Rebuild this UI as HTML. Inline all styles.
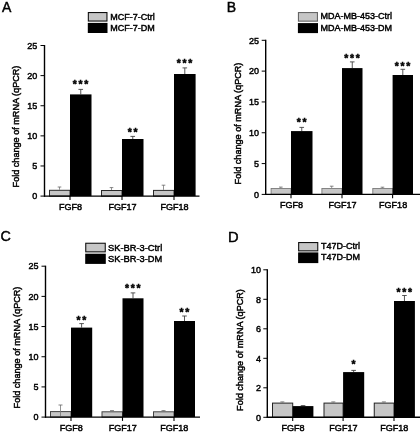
<!DOCTYPE html>
<html><head><meta charset="utf-8"><title>Figure</title>
<style>
html,body{margin:0;padding:0;background:#fff;}
svg{display:block;}
svg text{font-family:"Liberation Sans", Arial, sans-serif;fill:#000;stroke:#000;stroke-width:0.45px;}
svg text.st{stroke-width:0.45px;}
</style></head><body>
<svg width="420" height="436" viewBox="0 0 420 436">
<defs><filter id="soft" x="0" y="0" width="420" height="436" filterUnits="userSpaceOnUse"><feGaussianBlur stdDeviation="0.4"/></filter><filter id="soft2" x="0" y="0" width="420" height="436" filterUnits="userSpaceOnUse"><feGaussianBlur stdDeviation="0.25"/></filter></defs>
<rect width="420" height="436" fill="#fff"/>
<g filter="url(#soft2)">
<rect width="420" height="436" fill="#fff"/>
<g id="panel-A">
<rect x="88.35" y="12.55" width="18.60" height="8.50" fill="#c6c6c6" stroke="#111" stroke-width="1.1"/>
<rect x="87.80" y="22.90" width="19.70" height="10.10" fill="#000"/>
<line x1="80.75" y1="94.40" x2="80.75" y2="89.40" stroke="#444" stroke-width="0.9"/>
<line x1="78.45" y1="89.40" x2="83.05" y2="89.40" stroke="#444" stroke-width="0.9"/>
<rect x="49.50" y="190.30" width="20.50" height="5.80" fill="#c6c6c6" stroke="#2a2a2a" stroke-width="1"/>
<rect x="70.00" y="94.40" width="21.50" height="101.70" fill="#000"/>
<line x1="59.50" y1="187.00" x2="59.50" y2="189.80" stroke="#777" stroke-width="0.8"/>
<line x1="57.70" y1="187.00" x2="61.30" y2="187.00" stroke="#666" stroke-width="0.8"/>
<line x1="70.00" y1="196.10" x2="70.00" y2="199.90" stroke="#000" stroke-width="1.1"/>
<line x1="132.75" y1="139.00" x2="132.75" y2="136.40" stroke="#444" stroke-width="0.9"/>
<line x1="130.45" y1="136.40" x2="135.05" y2="136.40" stroke="#444" stroke-width="0.9"/>
<rect x="101.50" y="190.50" width="20.50" height="5.60" fill="#c6c6c6" stroke="#2a2a2a" stroke-width="1"/>
<rect x="122.00" y="139.00" width="21.50" height="57.10" fill="#000"/>
<line x1="111.50" y1="187.60" x2="111.50" y2="190.00" stroke="#777" stroke-width="0.8"/>
<line x1="109.70" y1="187.60" x2="113.30" y2="187.60" stroke="#666" stroke-width="0.8"/>
<line x1="122.00" y1="196.10" x2="122.00" y2="199.90" stroke="#000" stroke-width="1.1"/>
<line x1="184.80" y1="74.00" x2="184.80" y2="67.90" stroke="#444" stroke-width="0.9"/>
<line x1="182.50" y1="67.90" x2="187.10" y2="67.90" stroke="#444" stroke-width="0.9"/>
<rect x="153.50" y="190.40" width="20.50" height="5.70" fill="#c6c6c6" stroke="#2a2a2a" stroke-width="1"/>
<rect x="174.00" y="74.00" width="21.60" height="122.10" fill="#000"/>
<line x1="163.50" y1="185.20" x2="163.50" y2="189.90" stroke="#777" stroke-width="0.8"/>
<line x1="161.70" y1="185.20" x2="165.30" y2="185.20" stroke="#666" stroke-width="0.8"/>
<line x1="174.00" y1="196.10" x2="174.00" y2="199.90" stroke="#000" stroke-width="1.1"/>
<line x1="44.50" y1="45.00" x2="44.50" y2="196.70" stroke="#000" stroke-width="1.4"/>
<line x1="44.00" y1="196.10" x2="199.50" y2="196.10" stroke="#000" stroke-width="1.4"/>
<line x1="40.50" y1="196.10" x2="44.50" y2="196.10" stroke="#000" stroke-width="1"/>
<line x1="40.50" y1="165.98" x2="44.50" y2="165.98" stroke="#000" stroke-width="1"/>
<line x1="40.50" y1="135.86" x2="44.50" y2="135.86" stroke="#000" stroke-width="1"/>
<line x1="40.50" y1="105.74" x2="44.50" y2="105.74" stroke="#000" stroke-width="1"/>
<line x1="40.50" y1="75.62" x2="44.50" y2="75.62" stroke="#000" stroke-width="1"/>
<line x1="40.50" y1="45.50" x2="44.50" y2="45.50" stroke="#000" stroke-width="1"/>
</g>
<g id="panel-B">
<rect x="298.45" y="12.55" width="19.00" height="8.60" fill="#c6c6c6" stroke="#666" stroke-width="1.1"/>
<rect x="297.90" y="23.10" width="20.10" height="10.00" fill="#000"/>
<line x1="301.75" y1="131.10" x2="301.75" y2="127.40" stroke="#444" stroke-width="0.9"/>
<line x1="299.45" y1="127.40" x2="304.05" y2="127.40" stroke="#444" stroke-width="0.9"/>
<rect x="271.10" y="188.50" width="19.90" height="5.90" fill="#c6c6c6" stroke="#7a7a7a" stroke-width="0.9"/>
<rect x="291.00" y="131.10" width="21.50" height="63.30" fill="#000"/>
<line x1="280.80" y1="187.10" x2="280.80" y2="188.00" stroke="#777" stroke-width="0.8"/>
<line x1="279.00" y1="187.10" x2="282.60" y2="187.10" stroke="#666" stroke-width="0.8"/>
<line x1="291.00" y1="194.40" x2="291.00" y2="198.20" stroke="#000" stroke-width="1.1"/>
<line x1="352.25" y1="68.10" x2="352.25" y2="61.90" stroke="#444" stroke-width="0.9"/>
<line x1="349.95" y1="61.90" x2="354.55" y2="61.90" stroke="#444" stroke-width="0.9"/>
<rect x="321.90" y="188.50" width="20.10" height="5.90" fill="#c6c6c6" stroke="#7a7a7a" stroke-width="0.9"/>
<rect x="342.00" y="68.10" width="20.50" height="126.30" fill="#000"/>
<line x1="331.70" y1="186.20" x2="331.70" y2="188.00" stroke="#777" stroke-width="0.8"/>
<line x1="329.90" y1="186.20" x2="333.50" y2="186.20" stroke="#666" stroke-width="0.8"/>
<line x1="342.00" y1="194.40" x2="342.00" y2="198.20" stroke="#000" stroke-width="1.1"/>
<line x1="402.80" y1="75.00" x2="402.80" y2="69.30" stroke="#444" stroke-width="0.9"/>
<line x1="400.50" y1="69.30" x2="405.10" y2="69.30" stroke="#444" stroke-width="0.9"/>
<rect x="372.80" y="188.50" width="19.80" height="5.90" fill="#c6c6c6" stroke="#7a7a7a" stroke-width="0.9"/>
<rect x="392.60" y="75.00" width="20.40" height="119.40" fill="#000"/>
<line x1="382.45" y1="187.20" x2="382.45" y2="188.00" stroke="#777" stroke-width="0.8"/>
<line x1="380.65" y1="187.20" x2="384.25" y2="187.20" stroke="#666" stroke-width="0.8"/>
<line x1="392.60" y1="194.40" x2="392.60" y2="198.20" stroke="#000" stroke-width="1.1"/>
<line x1="265.70" y1="39.80" x2="265.70" y2="195.00" stroke="#000" stroke-width="1.4"/>
<line x1="265.20" y1="194.40" x2="420.00" y2="194.40" stroke="#000" stroke-width="1.4"/>
<line x1="261.70" y1="194.40" x2="265.70" y2="194.40" stroke="#000" stroke-width="1"/>
<line x1="261.70" y1="163.58" x2="265.70" y2="163.58" stroke="#000" stroke-width="1"/>
<line x1="261.70" y1="132.76" x2="265.70" y2="132.76" stroke="#000" stroke-width="1"/>
<line x1="261.70" y1="101.94" x2="265.70" y2="101.94" stroke="#000" stroke-width="1"/>
<line x1="261.70" y1="71.12" x2="265.70" y2="71.12" stroke="#000" stroke-width="1"/>
<line x1="261.70" y1="40.30" x2="265.70" y2="40.30" stroke="#000" stroke-width="1"/>
</g>
<g id="panel-C">
<rect x="85.75" y="243.25" width="19.50" height="8.60" fill="#c6c6c6" stroke="#111" stroke-width="1.1"/>
<rect x="85.20" y="253.70" width="20.60" height="10.20" fill="#000"/>
<line x1="81.60" y1="327.60" x2="81.60" y2="323.60" stroke="#444" stroke-width="0.9"/>
<line x1="79.30" y1="323.60" x2="83.90" y2="323.60" stroke="#444" stroke-width="0.9"/>
<rect x="50.50" y="411.60" width="20.50" height="5.50" fill="#c6c6c6" stroke="#444" stroke-width="1"/>
<rect x="71.00" y="327.60" width="21.20" height="89.50" fill="#000"/>
<line x1="60.50" y1="405.00" x2="60.50" y2="416.10" stroke="#777" stroke-width="0.8"/>
<line x1="58.50" y1="405.00" x2="62.50" y2="405.00" stroke="#666" stroke-width="0.8"/>
<line x1="71.00" y1="417.10" x2="71.00" y2="420.90" stroke="#000" stroke-width="1.1"/>
<line x1="133.00" y1="298.30" x2="133.00" y2="292.90" stroke="#444" stroke-width="0.9"/>
<line x1="130.70" y1="292.90" x2="135.30" y2="292.90" stroke="#444" stroke-width="0.9"/>
<rect x="102.00" y="411.80" width="20.50" height="5.30" fill="#c6c6c6" stroke="#444" stroke-width="1"/>
<rect x="122.50" y="298.30" width="21.00" height="118.80" fill="#000"/>
<line x1="112.00" y1="410.60" x2="112.00" y2="412.00" stroke="#777" stroke-width="0.8"/>
<line x1="110.00" y1="410.60" x2="114.00" y2="410.60" stroke="#666" stroke-width="0.8"/>
<line x1="122.50" y1="417.10" x2="122.50" y2="420.90" stroke="#000" stroke-width="1.1"/>
<line x1="184.50" y1="321.00" x2="184.50" y2="316.00" stroke="#444" stroke-width="0.9"/>
<line x1="182.20" y1="316.00" x2="186.80" y2="316.00" stroke="#444" stroke-width="0.9"/>
<rect x="153.50" y="411.80" width="20.50" height="5.30" fill="#c6c6c6" stroke="#444" stroke-width="1"/>
<rect x="174.00" y="321.00" width="21.00" height="96.10" fill="#000"/>
<line x1="163.50" y1="410.60" x2="163.50" y2="412.00" stroke="#777" stroke-width="0.8"/>
<line x1="161.50" y1="410.60" x2="165.50" y2="410.60" stroke="#666" stroke-width="0.8"/>
<line x1="174.00" y1="417.10" x2="174.00" y2="420.90" stroke="#000" stroke-width="1.1"/>
<line x1="45.50" y1="265.70" x2="45.50" y2="417.70" stroke="#000" stroke-width="1.4"/>
<line x1="45.00" y1="417.10" x2="200.00" y2="417.10" stroke="#000" stroke-width="1.4"/>
<line x1="41.50" y1="417.10" x2="45.50" y2="417.10" stroke="#000" stroke-width="1"/>
<line x1="41.50" y1="386.92" x2="45.50" y2="386.92" stroke="#000" stroke-width="1"/>
<line x1="41.50" y1="356.74" x2="45.50" y2="356.74" stroke="#000" stroke-width="1"/>
<line x1="41.50" y1="326.56" x2="45.50" y2="326.56" stroke="#000" stroke-width="1"/>
<line x1="41.50" y1="296.38" x2="45.50" y2="296.38" stroke="#000" stroke-width="1"/>
<line x1="41.50" y1="266.20" x2="45.50" y2="266.20" stroke="#000" stroke-width="1"/>
</g>
<g id="panel-D">
<rect x="298.65" y="242.55" width="19.10" height="8.30" fill="#c6c6c6" stroke="#111" stroke-width="1.1"/>
<rect x="298.10" y="252.40" width="20.20" height="10.70" fill="#000"/>
<line x1="303.05" y1="406.10" x2="303.05" y2="405.60" stroke="#444" stroke-width="0.9"/>
<line x1="300.75" y1="405.60" x2="305.35" y2="405.60" stroke="#444" stroke-width="0.9"/>
<rect x="272.50" y="403.10" width="20.20" height="14.20" fill="#c6c6c6" stroke="#222" stroke-width="1"/>
<rect x="292.70" y="406.10" width="20.70" height="11.20" fill="#000"/>
<line x1="282.35" y1="401.90" x2="282.35" y2="402.60" stroke="#777" stroke-width="0.8"/>
<line x1="280.35" y1="401.90" x2="284.35" y2="401.90" stroke="#666" stroke-width="0.8"/>
<line x1="292.70" y1="417.30" x2="292.70" y2="421.10" stroke="#000" stroke-width="1.1"/>
<line x1="353.65" y1="372.10" x2="353.65" y2="370.40" stroke="#444" stroke-width="0.9"/>
<line x1="351.35" y1="370.40" x2="355.95" y2="370.40" stroke="#444" stroke-width="0.9"/>
<rect x="324.00" y="403.10" width="19.10" height="14.20" fill="#c6c6c6" stroke="#222" stroke-width="1"/>
<rect x="343.10" y="372.10" width="21.10" height="45.20" fill="#000"/>
<line x1="333.30" y1="401.90" x2="333.30" y2="402.60" stroke="#777" stroke-width="0.8"/>
<line x1="331.30" y1="401.90" x2="335.30" y2="401.90" stroke="#666" stroke-width="0.8"/>
<line x1="343.10" y1="417.30" x2="343.10" y2="421.10" stroke="#000" stroke-width="1.1"/>
<line x1="404.45" y1="301.00" x2="404.45" y2="295.50" stroke="#444" stroke-width="0.9"/>
<line x1="402.15" y1="295.50" x2="406.75" y2="295.50" stroke="#444" stroke-width="0.9"/>
<rect x="374.25" y="403.10" width="19.75" height="14.20" fill="#c6c6c6" stroke="#222" stroke-width="1"/>
<rect x="394.00" y="301.00" width="20.90" height="116.30" fill="#000"/>
<line x1="383.88" y1="401.90" x2="383.88" y2="402.60" stroke="#777" stroke-width="0.8"/>
<line x1="381.88" y1="401.90" x2="385.88" y2="401.90" stroke="#666" stroke-width="0.8"/>
<line x1="394.00" y1="417.30" x2="394.00" y2="421.10" stroke="#000" stroke-width="1.1"/>
<line x1="267.30" y1="269.30" x2="267.30" y2="417.90" stroke="#000" stroke-width="1.4"/>
<line x1="266.80" y1="417.30" x2="420.00" y2="417.30" stroke="#000" stroke-width="1.4"/>
<line x1="263.30" y1="417.30" x2="267.30" y2="417.30" stroke="#000" stroke-width="1"/>
<line x1="263.30" y1="387.80" x2="267.30" y2="387.80" stroke="#000" stroke-width="1"/>
<line x1="263.30" y1="358.30" x2="267.30" y2="358.30" stroke="#000" stroke-width="1"/>
<line x1="263.30" y1="328.80" x2="267.30" y2="328.80" stroke="#000" stroke-width="1"/>
<line x1="263.30" y1="299.30" x2="267.30" y2="299.30" stroke="#000" stroke-width="1"/>
<line x1="263.30" y1="269.80" x2="267.30" y2="269.80" stroke="#000" stroke-width="1"/>
</g>
</g>
<g filter="url(#soft)">
<text x="2.00" y="11.60" font-size="14" text-anchor="start">A</text>
<text x="110.20" y="19.60" font-size="9" text-anchor="start">MCF-7-Ctrl</text>
<text x="110.20" y="30.50" font-size="9" text-anchor="start">MCF-7-DM</text>
<text x="81.42" y="88.17" font-size="10.4" text-anchor="middle" font-weight="bold" letter-spacing="1.75" class="st">***</text>
<text x="70.50" y="210.10" font-size="9.05" text-anchor="middle">FGF8</text>
<text x="133.43" y="136.07" font-size="10.4" text-anchor="middle" font-weight="bold" letter-spacing="1.75" class="st">**</text>
<text x="122.50" y="210.10" font-size="9.05" text-anchor="middle">FGF17</text>
<text x="185.48" y="66.87" font-size="10.4" text-anchor="middle" font-weight="bold" letter-spacing="1.75" class="st">***</text>
<text x="174.50" y="210.10" font-size="9.05" text-anchor="middle">FGF18</text>
<text x="37.20" y="199.30" font-size="9" text-anchor="end">0</text>
<text x="37.20" y="169.18" font-size="9" text-anchor="end">5</text>
<text x="37.20" y="139.06" font-size="9" text-anchor="end">10</text>
<text x="37.20" y="108.94" font-size="9" text-anchor="end">15</text>
<text x="37.20" y="78.82" font-size="9" text-anchor="end">20</text>
<text x="37.20" y="48.70" font-size="9" text-anchor="end">25</text>
<text transform="translate(18.7,126.5) rotate(-90)" font-size="9.1" text-anchor="middle">Fold change of mRNA (qPCR)</text>
<text x="226.80" y="11.70" font-size="14" text-anchor="start">B</text>
<text x="320.50" y="19.40" font-size="9" text-anchor="start">MDA-MB-453-Ctrl</text>
<text x="320.50" y="30.60" font-size="9" text-anchor="start">MDA-MB-453-DM</text>
<text x="302.43" y="126.47" font-size="10.4" text-anchor="middle" font-weight="bold" letter-spacing="1.75" class="st">**</text>
<text x="291.50" y="207.80" font-size="9.05" text-anchor="middle">FGF8</text>
<text x="352.93" y="61.97" font-size="10.4" text-anchor="middle" font-weight="bold" letter-spacing="1.75" class="st">***</text>
<text x="342.50" y="207.80" font-size="9.05" text-anchor="middle">FGF17</text>
<text x="403.48" y="69.57" font-size="10.4" text-anchor="middle" font-weight="bold" letter-spacing="1.75" class="st">***</text>
<text x="393.10" y="207.80" font-size="9.05" text-anchor="middle">FGF18</text>
<text x="259.00" y="197.60" font-size="9" text-anchor="end">0</text>
<text x="259.00" y="166.78" font-size="9" text-anchor="end">5</text>
<text x="259.00" y="135.96" font-size="9" text-anchor="end">10</text>
<text x="259.00" y="105.14" font-size="9" text-anchor="end">15</text>
<text x="259.00" y="74.32" font-size="9" text-anchor="end">20</text>
<text x="259.00" y="43.50" font-size="9" text-anchor="end">25</text>
<text transform="translate(241,123.5) rotate(-90)" font-size="9.1" text-anchor="middle">Fold change of mRNA (qPCR)</text>
<text x="0.60" y="241.00" font-size="14.3" text-anchor="start">C</text>
<text x="108.00" y="250.60" font-size="9.3" text-anchor="start">SK-BR-3-Ctrl</text>
<text x="108.00" y="261.50" font-size="9.3" text-anchor="start">SK-BR-3-DM</text>
<text x="82.27" y="324.17" font-size="10.4" text-anchor="middle" font-weight="bold" letter-spacing="1.75" class="st">**</text>
<text x="71.30" y="430.90" font-size="9.05" text-anchor="middle">FGF8</text>
<text x="133.68" y="292.37" font-size="10.4" text-anchor="middle" font-weight="bold" letter-spacing="1.75" class="st">***</text>
<text x="122.80" y="430.90" font-size="9.05" text-anchor="middle">FGF17</text>
<text x="185.18" y="315.77" font-size="10.4" text-anchor="middle" font-weight="bold" letter-spacing="1.75" class="st">**</text>
<text x="174.30" y="430.90" font-size="9.05" text-anchor="middle">FGF18</text>
<text x="38.60" y="420.30" font-size="9" text-anchor="end">0</text>
<text x="38.60" y="390.12" font-size="9" text-anchor="end">5</text>
<text x="38.60" y="359.94" font-size="9" text-anchor="end">10</text>
<text x="38.60" y="329.76" font-size="9" text-anchor="end">15</text>
<text x="38.60" y="299.58" font-size="9" text-anchor="end">20</text>
<text x="38.60" y="269.40" font-size="9" text-anchor="end">25</text>
<text transform="translate(19.5,347.5) rotate(-90)" font-size="9.1" text-anchor="middle">Fold change of mRNA (qPCR)</text>
<text x="228.00" y="241.60" font-size="14.7" text-anchor="start">D</text>
<text x="321.00" y="249.30" font-size="9" text-anchor="start">T47D-Ctrl</text>
<text x="321.00" y="260.30" font-size="9" text-anchor="start">T47D-DM</text>
<text x="293.00" y="431.30" font-size="9.05" text-anchor="middle">FGF8</text>
<text x="354.32" y="367.87" font-size="10.4" text-anchor="middle" font-weight="bold" letter-spacing="1.75" class="st">*</text>
<text x="343.40" y="431.30" font-size="9.05" text-anchor="middle">FGF17</text>
<text x="405.12" y="295.77" font-size="10.4" text-anchor="middle" font-weight="bold" letter-spacing="1.75" class="st">***</text>
<text x="394.30" y="431.30" font-size="9.05" text-anchor="middle">FGF18</text>
<text x="261.00" y="420.50" font-size="9" text-anchor="end">0</text>
<text x="261.00" y="391.00" font-size="9" text-anchor="end">2</text>
<text x="261.00" y="361.50" font-size="9" text-anchor="end">4</text>
<text x="261.00" y="332.00" font-size="9" text-anchor="end">6</text>
<text x="261.00" y="302.50" font-size="9" text-anchor="end">8</text>
<text x="261.00" y="273.00" font-size="9" text-anchor="end">10</text>
<text transform="translate(243,350) rotate(-90)" font-size="9.1" text-anchor="middle">Fold change of mRNA (qPCR)</text>
</g>
</svg>
</body></html>
